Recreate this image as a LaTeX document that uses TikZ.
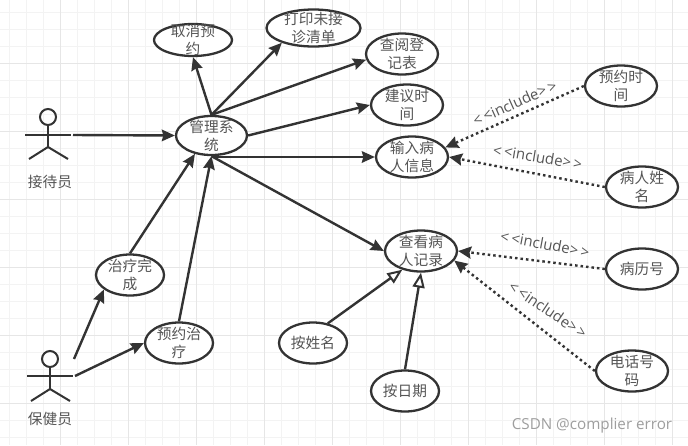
\documentclass[tikz,border=0pt]{standalone}
\usepackage{fontspec}
\usetikzlibrary{arrows.meta,shapes.geometric}
\setmainfont{Noto Sans CJK SC}
\newfontfamily\incfont{Open Sans}
\definecolor{ink}{HTML}{333333}
\definecolor{txt}{HTML}{555555}
\definecolor{gmin}{HTML}{F3F3F3}
\definecolor{gmaj}{HTML}{E6E6E6}
\tikzset{
  uc/.style={ellipse,draw=ink,line width=2.3pt,fill=white,inner sep=0pt,minimum width=#1,minimum height=41pt},
  uc/.default=72pt,
  every label/.append style={align=center,text=txt,inner sep=0pt,font=\fontsize{14.7}{18}\selectfont},
  lbl/.style={text=txt,inner sep=0pt,font=\fontsize{14.7}{18}\selectfont},
  inc/.style={text=txt,inner sep=0pt,font=\incfont\fontsize{15}{16}\selectfont},
  actor/.style={draw=ink,line width=2pt},
  head/.style={circle,draw=ink,line width=2pt,inner sep=0pt,minimum size=16pt},
  assoc/.style={draw=ink,line width=2.4pt,-{Stealth[length=13pt,width=11.5pt,inset=1.5pt]}},
  gen/.style={draw=ink,line width=2.4pt,-{Triangle[length=15pt,width=12pt,fill=white,line width=2pt]}},
  incl/.style={draw=ink,line width=2.4pt,dash pattern=on 2.5pt off 3pt,-{Stealth[length=13pt,width=12pt,inset=1.5pt]}},
}
\begin{document}
\begin{tikzpicture}[x=1pt,y=-1pt]
\useasboundingbox (0,0) rectangle (688,445);
\fill[white] (0,0) rectangle (688,445);
% grid
\foreach \k in {-3,...,37}{
  \pgfmathsetmacro\gx{60.6+17*(\k)}
  \draw[gmin,line width=.9pt] (\gx,0) -- (\gx,445);
  \pgfmathsetmacro\gy{63+17*(\k)}
  \draw[gmin,line width=.9pt] (0,\gy) -- (688,\gy);
}
\foreach \k in {-1,...,9}{
  \pgfmathsetmacro\gx{60.6+68*(\k)}
  \draw[gmaj,line width=.9pt] (\gx,0) -- (\gx,445);
  \pgfmathsetmacro\gy{63+68*(\k)}
  \draw[gmaj,line width=.9pt] (0,\gy) -- (688,\gy);
}
% use cases
\node[uc=78pt,minimum height=32pt,label={center:取消预\\约}] (cancel) at (193,40) {};
\node[uc=94pt,minimum height=37pt,label={center:打印未接\\诊清单}] (print) at (313.5,28) {};
\node[uc,label={center:查阅登\\记表}] (view) at (402,54) {};
\node[uc,label={center:建议时\\间}] (advice) at (407,105) {};
\node[uc,label={center:输入病\\人信息}] (input) at (412,157) {};
\node[uc,label={center:预约时\\间}] (appt) at (621,86) {};
\node[uc,label={center:病人姓\\名}] (pname) at (642,187) {};
\node[uc=71pt,minimum height=39pt,label={center:管理系\\统}] (sys) at (211.5,135.5) {};
\node[uc=68pt,label={center:治疗完\\成}] (treat) at (130,275) {};
\node[uc=68pt,label={center:预约治\\疗}] (book) at (179,343) {};
\node[uc=68pt,label={center:按姓名}] (byname) at (313,343) {};
\node[uc,label={center:查看病\\人记录}] (record) at (421,251) {};
\node[uc,label={center:病历号}] (hist) at (642,269) {};
\node[uc,label={center:电话号\\码}] (phone) at (632,371) {};
\node[uc=68pt,label={center:按日期}] (bydate) at (405,391) {};
% actors
\node[head] (h1) at (48,117) {};
\coordinate (c1) at (48,147);
\draw[actor] (h1.south) -- (c1);
\draw[actor] (25,135) -- (71,135);
\draw[actor] (29,159) -- (c1) -- (68,159);
\node[lbl] (l1) at (50,182) {接待员};
\coordinate (s1) at (73,135);
\node[head] (h2) at (50,359) {};
\coordinate (c2) at (50,389);
\draw[actor] (h2.south) -- (c2);
\draw[actor] (27,376) -- (73,376);
\draw[actor] (31,401) -- (c2) -- (70,401);
\node[lbl] (l2) at (50,419) {保健员};
\coordinate (s2) at (74,359);
\coordinate (s3) at (75,376);
% connectors
\draw[assoc] (s1) -- (sys.west);
\draw[assoc] (sys.north) -- (cancel.south);
\draw[assoc] (sys.north) -- (print.205);
\draw[assoc] (sys.north) -- (view.189);
\draw[assoc] (sys.east) -- (advice.west);
\draw[assoc] (sys.south |- input.west) -- (input.west);
\draw[assoc] (sys.south) -- (record.west);
\draw[assoc] (s2) -- (treat.209);
\draw[assoc] (s3) -- (book.west);
\draw[assoc] (treat.north) -- (sys.228);
\draw[assoc] (book.north) -- (sys.south);
\draw[gen] (byname.53) -- (record.225);
\draw[gen] (bydate.north) -- (record.south);
\draw[incl] (appt.west) -- (input.16);
\draw[incl] (pname.west) -- (input.east);
\draw[incl] (hist.west) -- (record.east);
\draw[incl] (phone.west) -- (record.-16);
% include labels
\node[inc,rotate=24] (i1) at (514.7,103) {<\kern2.5pt<include>\kern2.5pt>};
\node[inc,rotate=-9.5] (i2) at (537.7,157) {<\kern2.5pt<include>\kern2.5pt>};
\node[inc,rotate=-10.5] (i3) at (545,244) {<\kern2.5pt<include>\kern2.5pt>};
\node[inc,rotate=-33.7] (i4) at (548,310) {<\kern2.5pt<include>\kern2.5pt>};
% watermark
\node[inner sep=0pt,text=black!38,font=\incfont\fontsize{15.2}{17}\selectfont] (mark) at (592,426) {CSDN @complier error};
\end{tikzpicture}
\end{document}
